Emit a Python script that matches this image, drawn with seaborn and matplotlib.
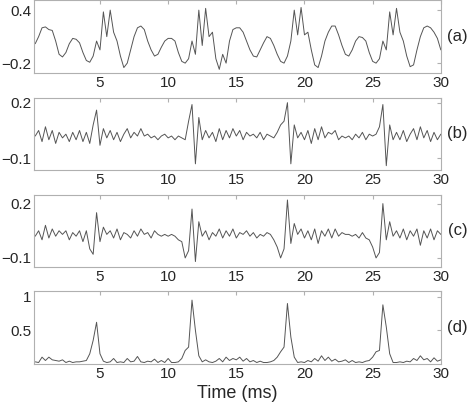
import numpy as np
import pandas as pd
import matplotlib
matplotlib.use("Agg")
import matplotlib.pyplot as plt
import seaborn as sns

sns.set_style("white")
plt.rcParams.update({"font.family": ["Liberation Sans", "DejaVu Sans"], "font.size": 11})

# time axis, 0.25 ms sampling
time_ms = np.arange(1, 121) * 0.25

sig_a = [0.02, 0.1, 0.2, 0.21, 0.18, 0.17, 0.05, -0.1, -0.13, -0.08, 0.02, 0.08,
         0.07, 0.03, -0.08, -0.17, -0.19, -0.12, 0.05, -0.05, 0.38, 0.1, 0.4, 0.15,
         0.05, -0.12, -0.25, -0.2, -0.05, 0.1, 0.2, 0.22, 0.18, 0.05, -0.05, -0.12,
         -0.1, -0.02, 0.05, 0.08, 0.08, 0.05, -0.08, -0.18, -0.2, -0.15, 0.05, -0.1,
         0.4, 0.0, 0.42, 0.1, 0.15, -0.15, -0.27, -0.1, -0.2, 0.05, 0.18, 0.2,
         0.2, 0.15, 0.05, -0.05, -0.12, -0.13, -0.05, 0.03, 0.1, 0.08, 0.0, -0.1,
         -0.18, -0.2, -0.12, 0.05, 0.4, 0.12, 0.43, 0.12, 0.15, -0.05, -0.22, -0.25,
         -0.12, 0.05, 0.15, 0.22, 0.22, 0.12, 0.0, -0.1, -0.12, -0.05, 0.05, 0.1,
         0.09, 0.05, -0.08, -0.18, -0.2, -0.15, 0.05, -0.05, 0.38, 0.12, 0.42, 0.15,
         0.05, -0.12, -0.24, -0.22, -0.05, 0.1, 0.2, 0.22, 0.2, 0.15, 0.08, -0.05]

sig_b = [0.02, 0.05, -0.01, 0.07, 0.0, 0.05, -0.02, 0.04, 0.01, 0.03, -0.01, 0.04, 0.0, 0.05, -0.01, 0.04, -0.02,
         0.08, 0.16, -0.03, 0.06,
         0.01, 0.05, 0.0, 0.04, -0.01, 0.03, 0.06, 0.01, 0.04, 0.02, 0.06, 0.02, 0.03, 0.01, 0.02, 0.0, 0.02, 0.03, 0.01, 0.02, 0.0, 0.02, 0.01,
         0.0, 0.1, 0.19, -0.13, 0.12, 0.0,
         0.05, 0.01, 0.04, -0.01, 0.06, 0.0, 0.05, 0.01, 0.06, 0.02, 0.05, 0.0, 0.04, 0.02, 0.03, 0.01, 0.04, 0.0, 0.03, 0.02, 0.01, 0.04,
         0.08, 0.1, 0.2, -0.13, 0.08, 0.01,
         0.04, 0.0, 0.05, -0.02, 0.06, 0.0, 0.07, 0.01, 0.04, 0.03, 0.05, 0.0, 0.02, 0.01, 0.02, 0.0, 0.03, 0.01, 0.04, 0.0, 0.03, 0.02, 0.03,
         0.07, 0.19, -0.14, 0.08, 0.0,
         0.04, 0.0, 0.05, -0.01, 0.03, 0.06, 0.0, 0.07, 0.01, 0.05, -0.01, 0.04, 0.0, 0.03]

sig_c = [0.02, 0.05, 0.0, 0.08, 0.01, 0.06, 0.02, 0.05, 0.03, 0.05, 0.0, 0.04, 0.02, 0.05, -0.01, 0.05,
         -0.05, -0.08, 0.15, -0.01, 0.07,
         0.03, 0.05, 0.01, 0.06, 0.0, 0.04, 0.03, 0.01, 0.05, 0.02, 0.06, 0.03, 0.04, 0.01, 0.05, 0.03, 0.02, 0.03, 0.02, 0.03, 0.02, 0.0, -0.01,
         -0.1, -0.06, 0.17, -0.12, 0.1, 0.02,
         0.05, 0.0, 0.04, 0.02, 0.06, 0.01, 0.05, 0.02, 0.06, 0.01, 0.04, 0.03, 0.05, 0.02, 0.04, 0.01, 0.03, 0.02, 0.04, 0.03, 0.0,
         -0.04, -0.1, -0.05, 0.22, -0.02, 0.09,
         0.03, 0.06, 0.01, 0.05, 0.0, 0.06, -0.02, 0.05, 0.02, 0.06, 0.01, 0.06, 0.02, 0.04, 0.03, 0.03, 0.02, 0.03, 0.01, 0.04, 0.01, 0.0, -0.04,
         -0.1, -0.07, 0.2, 0.0, 0.1,
         0.02, 0.05, 0.01, 0.06, 0.0, 0.05, 0.02, 0.06, -0.03, 0.05, 0.01, 0.06, 0.0, 0.05, 0.03]

sig_d = [0.03, 0.02, 0.1, 0.05, 0.1, 0.06, 0.05, 0.04, 0.06, 0.02, 0.04, 0.02, 0.03, 0.03, 0.04,
         0.05, 0.15, 0.35, 0.62, 0.15, 0.04,
         0.02, 0.03, 0.08, 0.02, 0.03, 0.02, 0.08, 0.03, 0.04, 0.11, 0.03, 0.02, 0.04, 0.03, 0.07, 0.02, 0.05, 0.02, 0.08, 0.02, 0.02, 0.03,
         0.08, 0.2, 0.25, 0.95, 0.5, 0.12, 0.03,
         0.06, 0.03, 0.02, 0.04, 0.08, 0.03, 0.1, 0.05, 0.08, 0.06, 0.1, 0.04, 0.08, 0.03, 0.05, 0.02, 0.04, 0.02, 0.02, 0.03, 0.05,
         0.1, 0.18, 0.25, 0.9, 0.4, 0.1, 0.02,
         0.03, 0.02, 0.05, 0.03, 0.08, 0.04, 0.12, 0.05, 0.1, 0.04, 0.07, 0.03, 0.04, 0.06, 0.02, 0.05, 0.02, 0.03, 0.02, 0.04, 0.05, 0.1,
         0.18, 0.2, 0.88, 0.55, 0.15, 0.02,
         0.02, 0.03, 0.02, 0.04, 0.03, 0.08, 0.05, 0.12, 0.06, 0.08, 0.03, 0.09, 0.04, 0.06]

panels = [
    ("(a)", sig_a, (-0.31, 0.51), [-0.2, 0.4], ["\u22120.2", "0.4"], 0.821),
    ("(b)", sig_b, (-0.164, 0.227), [-0.1, 0.2], ["\u22120.1", "0.2"], 0.582),
    ("(c)", sig_c, (-0.15, 0.25), [-0.1, 0.2], ["\u22120.1", "0.2"], 0.344),
    ("(d)", sig_d, (0.0, 1.08), [0.5, 1.0], ["0.5", "1"], 0.106),
]

fig = plt.figure(figsize=(4.74, 4.07), dpi=100)
frame = "#b0b0b0"
for label, sig, ylim, yt, ytl, bottom in panels:
    ax = fig.add_axes([0.072, bottom, 0.858, 0.178])
    df = pd.DataFrame({"t": time_ms, "v": sig})
    sns.lineplot(data=df, x="t", y="v", ax=ax, color="#555555", linewidth=0.7)
    ax.set_xlim(0.17, 30)
    ax.set_ylim(*ylim)
    ax.set_xticks([5, 10, 15, 20, 25, 30])
    ax.set_yticks(yt)
    ax.set_yticklabels(ytl)
    ax.set_xlabel("")
    ax.set_ylabel("")
    ax.tick_params(direction="in", length=3, color=frame, top=True, right=True, pad=2)
    for s in ax.spines.values():
        s.set_color(frame)
    fig.text(0.965, bottom + 0.089, label, ha="center", va="center", fontsize=12)

fig.text(0.5, 0.012, "Time (ms)", ha="center", va="bottom", fontsize=13)
fig.savefig("out.png", dpi=100)
